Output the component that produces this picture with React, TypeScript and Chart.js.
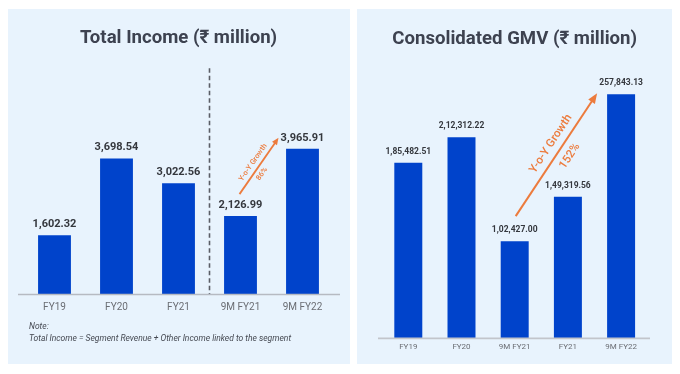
import React, { useEffect, useRef } from "react";
import { Chart, registerables } from "chart.js";

Chart.register(...registerables);

// ---------- data ----------
const incomeCategories = ["FY19", "FY20", "FY21", "9M FY21", "9M FY22"];
const incomeValues = [1602.32, 3698.54, 3022.56, 2126.99, 3965.91];
const incomeValueLabels = ["1,602.32", "3,698.54", "3,022.56", "2,126.99", "3,965.91"];
const incomeTitle = "Total Income (₹ million)";
const incomeGrowthText = ["Y-o-Y Growth", "86%"];
const incomeNotes = ["Note:", "Total Income = Segment Revenue + Other Income linked to the segment"];

const gmvCategories = ["FY19", "FY20", "9M FY21", "FY21", "9M FY22"];
const gmvValues = [185482.51, 212312.22, 102427.0, 149319.56, 257843.13];
const gmvValueLabels = ["1,85,482.51", "2,12,312.22", "1,02,427.00", "1,49,319.56", "257,843.13"];
const gmvTitle = "Consolidated GMV (₹ million)";
const gmvGrowthText = ["Y-o-Y Growth", "152%"];

// ---------- styles ----------
const FONT = "Roboto";
const BLUE = "#0043cb";
const ORANGE = "#ec7b3d";
const PANEL_BG = "#e8f3fd";
const TITLE_COLOR = "#3d4250";

const overlayPlugin = {
  id: "overlay",
  afterDatasetsDraw(chart: any, _args: any, opts: any) {
    const ctx: CanvasRenderingContext2D = chart.ctx;
    const meta = chart.getDatasetMeta(0);
    const { left, right, bottom, top } = chart.chartArea;
    ctx.save();

    // axis line
    ctx.strokeStyle = opts.axisColor;
    ctx.lineWidth = opts.axisWidth;
    ctx.beginPath();
    ctx.moveTo(left - opts.axisExtL, bottom + 0.5);
    ctx.lineTo(right + opts.axisExtR, bottom + 0.5);
    ctx.stroke();

    // value labels
    ctx.fillStyle = opts.labelColor;
    ctx.font = opts.labelFont;
    ctx.textAlign = "center";
    ctx.textBaseline = "middle";
    meta.data.forEach((bar: any, i: number) => {
      ctx.fillText(opts.labels[i], bar.x, bar.y - opts.labelGap);
    });

    // divider
    if (opts.divider) {
      const a = meta.data[opts.divider.after].x;
      const b = meta.data[opts.divider.after + 1].x;
      const x = (a + b) / 2;
      ctx.strokeStyle = "#5a5e66";
      ctx.lineWidth = 1.6;
      ctx.setLineDash([4.5, 3]);
      ctx.beginPath();
      ctx.moveTo(x, top + opts.divider.topOffset);
      ctx.lineTo(x, bottom);
      ctx.stroke();
      ctx.setLineDash([]);
    }

    // growth arrow
    const ar = opts.arrow;
    if (ar) {
      const fb = meta.data[ar.fromIndex];
      const tb = meta.data[ar.toIndex];
      const sx = fb.x + ar.fromDx;
      const sy = fb.y + ar.fromDy;
      const ex = tb.x + ar.toDx;
      const ey = tb.y + ar.toDy;
      const dx = ex - sx;
      const dy = ey - sy;
      const len = Math.hypot(dx, dy);
      const ux = dx / len;
      const uy = dy / len;
      const nx = uy;
      const ny = -ux;
      ctx.strokeStyle = ORANGE;
      ctx.fillStyle = ORANGE;
      ctx.lineWidth = ar.width;
      ctx.beginPath();
      ctx.moveTo(sx, sy);
      ctx.lineTo(ex - ux * ar.headLen * 0.8, ey - uy * ar.headLen * 0.8);
      ctx.stroke();
      ctx.beginPath();
      ctx.moveTo(ex, ey);
      ctx.lineTo(ex - ux * ar.headLen + nx * ar.headW / 2, ey - uy * ar.headLen + ny * ar.headW / 2);
      ctx.lineTo(ex - ux * ar.headLen - nx * ar.headW / 2, ey - uy * ar.headLen - ny * ar.headW / 2);
      ctx.closePath();
      ctx.fill();

      const mx = (sx + ex) / 2;
      const my = (sy + ey) / 2;
      const ang = Math.atan2(dy, dx);
      ctx.font = ar.font;
      ctx.textAlign = "center";
      ctx.textBaseline = "middle";
      ar.texts.forEach((t: string, i: number) => {
        const [along, perp] = ar.textPos[i];
        const px = mx + ux * along + nx * perp;
        const py = my + uy * along + ny * perp;
        ctx.save();
        ctx.translate(px, py);
        ctx.rotate(ang);
        ctx.fillText(t, 0, 0);
        ctx.restore();
      });
    }

    // notes
    if (opts.notes) {
      ctx.fillStyle = "#444851";
      ctx.font = `italic 8.5px ${FONT}`;
      ctx.textAlign = "left";
      ctx.textBaseline = "middle";
      opts.notes.lines.forEach((t: string, i: number) => {
        ctx.fillText(t, opts.notes.x, opts.notes.y + i * opts.notes.lineGap);
      });
    }

    ctx.restore();
  },
};

function makeConfig(p: any): any {
  return {
    type: "bar",
    data: {
      labels: p.categories,
      datasets: [
        {
          data: p.values,
          backgroundColor: BLUE,
          borderWidth: 0,
          categoryPercentage: 1,
          barPercentage: p.barPct,
        },
      ],
    },
    options: {
      responsive: false,
      animation: false,
      devicePixelRatio: 1,
      layout: { padding: p.padding },
      scales: {
        x: {
          grid: { display: false, drawTicks: false },
          border: { display: false },
          ticks: {
            color: "#6a6d73",
            font: { family: FONT, size: p.tickSize },
            padding: p.tickPad,
            maxRotation: 0,
          },
        },
        y: { display: false, min: 0, max: p.yMax },
      },
      plugins: {
        legend: { display: false },
        tooltip: { enabled: false },
        title: {
          display: true,
          text: p.title,
          color: TITLE_COLOR,
          font: { family: FONT, size: 18.6, weight: "bold" },
          padding: p.titlePad,
        },
        overlay: p.overlay,
      },
    },
    plugins: [overlayPlugin],
  };
}

export default function App() {
  const leftRef = useRef<HTMLCanvasElement>(null);
  const rightRef = useRef<HTMLCanvasElement>(null);

  useEffect(() => {
    const left = new Chart(
      leftRef.current as HTMLCanvasElement,
      makeConfig({
        categories: incomeCategories,
        values: incomeValues,
        barPct: 0.53,
        padding: { left: 15.5, right: 16.5, top: 0, bottom: 44 },
        tickSize: 10,
        tickPad: 7,
        yMax: 6000,
        title: incomeTitle,
        titlePad: { top: 18.6, bottom: 24.4 },
        overlay: {
          axisColor: "#b6bac2",
          axisWidth: 1.5,
          axisExtL: 5.5,
          axisExtR: 6.5,
          labels: incomeValueLabels,
          labelColor: "#34373d",
          labelFont: `bold 11px ${FONT}`,
          labelGap: 11,
          divider: { after: 2, topOffset: -6 },
          arrow: {
            fromIndex: 3,
            fromDx: -1,
            fromDy: -22,
            toIndex: 4,
            toDx: -24,
            toDy: -11,
            width: 1.8,
            headLen: 7,
            headW: 6,
            font: `500 7.4px ${FONT}`,
            texts: incomeGrowthText,
            textPos: [
              [-0.6, 6.8],
              [-4.8, -7],
            ],
          },
          notes: { lines: incomeNotes, x: 21, y: 317.7, lineGap: 12.3 },
        },
      })
    );
    const right = new Chart(
      rightRef.current as HTMLCanvasElement,
      makeConfig({
        categories: gmvCategories,
        values: gmvValues,
        barPct: 0.526,
        padding: { left: 24.7, right: 24.3, top: 0, bottom: 7.5 },
        tickSize: 8,
        tickPad: 4.5,
        yMax: 300000,
        title: gmvTitle,
        titlePad: { top: 18.8, bottom: 4.4 },
        overlay: {
          axisColor: "#c2c5cb",
          axisWidth: 1.6,
          axisExtL: 3.7,
          axisExtR: 2.3,
          labels: gmvValueLabels,
          labelColor: "#34373d",
          labelFont: `bold 8.5px ${FONT}`,
          labelGap: 11.3,
          arrow: {
            fromIndex: 2,
            fromDx: 1,
            fromDy: -25,
            toIndex: 4,
            toDx: -24,
            toDy: -1,
            width: 2,
            headLen: 10,
            headW: 8,
            font: `500 11.5px ${FONT}`,
            texts: gmvGrowthText,
            textPos: [
              [6, 10.5],
              [6.3, -12],
            ],
          },
        },
      })
    );
    return () => {
      left.destroy();
      right.destroy();
    };
  }, []);

  return (
    <div style={{ position: "relative", width: 664, height: 358 }}>
      <div
        style={{ position: "absolute", left: 0, top: 1, width: 342, height: 355, background: PANEL_BG }}
      >
        <canvas ref={leftRef} width={342} height={355} style={{ display: "block" }} />
      </div>
      <div
        style={{ position: "absolute", left: 349, top: 1, width: 315, height: 355, background: PANEL_BG }}
      >
        <canvas ref={rightRef} width={315} height={355} style={{ display: "block" }} />
      </div>
    </div>
  );
}
